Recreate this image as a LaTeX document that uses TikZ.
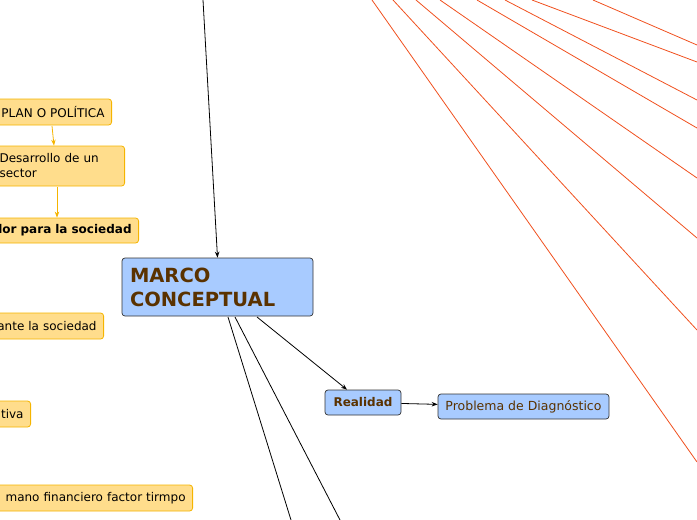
\documentclass[tikz,border=0pt]{standalone}
\usepackage{fontspec}
\setmainfont{DejaVu Sans}
\usetikzlibrary{arrows.meta}
\definecolor{ybox}{HTML}{FFDD8C}
\definecolor{yline}{HTML}{F5B400}
\definecolor{bbox}{HTML}{A8CBFF}
\definecolor{brown}{HTML}{5A3200}
\definecolor{red}{HTML}{F0501E}
\tikzset{
 ynode/.style={draw=yline,fill=ybox,rounded corners=3pt,line width=0.8pt,anchor=east,font=\fontsize{12}{15}\selectfont,align=right,text width=200pt,inner xsep=7pt,inner ysep=6pt},
 bnode/.style={draw=black!80,fill=bbox,rounded corners=3pt,line width=0.7pt,text=brown},
 blk/.style={draw=black,line width=0.8pt,-{Stealth[length=6pt,width=4.5pt]}},
 yarr/.style={draw=yline,line width=0.8pt,-{Stealth[length=6pt,width=4.5pt]}},
 rl/.style={draw=red,line width=0.8pt}
}
\begin{document}
\begin{tikzpicture}[x=1pt,y=-1pt]
\useasboundingbox (0,0) rectangle (697,520);
\clip (0,0) rectangle (697,520);
% red lines
\foreach \a/\b in {372/462,393/330,416/238,440/178,477/128,505/100,532/62,593/45}{
 \coordinate (s\a) at (\a,0); \coordinate (e\a) at (697,\b);
 \draw[rl] (s\a) -- (e\a);}
% yellow nodes
\node[ynode,minimum height=26pt] (plan) at (112,112) {PLAN O POLÍTICA};
\node[ynode,minimum height=40pt,text width=121pt,inner xsep=4pt,align=left] (des) at (125,166) {Desarrollo de un\\sector};
\node[ynode,minimum height=25pt,font=\fontsize{12}{15}\selectfont\bfseries] (val) at (139,230.5) {lor para la sociedad};
\node[ynode,minimum height=26pt] (ante) at (104,326) {ante la sociedad};
\node[ynode,minimum height=26pt] (tiva) at (31,414) {tiva};
\node[ynode,minimum height=26pt] (mano) at (193,498) {mano financiero factor tirmpo};
% blue nodes
\node[bnode,minimum width=191pt,minimum height=58pt,text width=175pt,align=left,font=\fontsize{19.5}{24}\selectfont\bfseries] (mc) at (217.5,287) {MARCO\\CONCEPTUAL};
\node[bnode,minimum width=76pt,minimum height=25pt,font=\fontsize{12}{15}\selectfont\bfseries] (real) at (363,402.5) {Realidad};
\node[bnode,minimum width=171pt,minimum height=25pt,font=\fontsize{12.5}{15}\selectfont] (prob) at (523.5,406.5) {Problema de Diagnóstico};
% connectors
\coordinate (top) at (203,0);
\draw[blk] (top) -- (mc.north);
\coordinate (m1) at (257,317);
\draw[blk] (m1) -- ([xshift=-16pt]real.north);
\draw[blk] (real) -- (prob);
\coordinate (b1) at (291,520); \coordinate (b2) at (340,520);
\coordinate (m2) at (228,317); \coordinate (m3) at (235,317);
\draw[draw=black,line width=0.8pt] (m2) -- (b1);
\draw[draw=black,line width=0.8pt] (m3) -- (b2);
\draw[yarr] (52,126) -- (des.north -| 54,0);
\draw[yarr] (57,187) -- (val.north -| 57,0);
\end{tikzpicture}
\end{document}
